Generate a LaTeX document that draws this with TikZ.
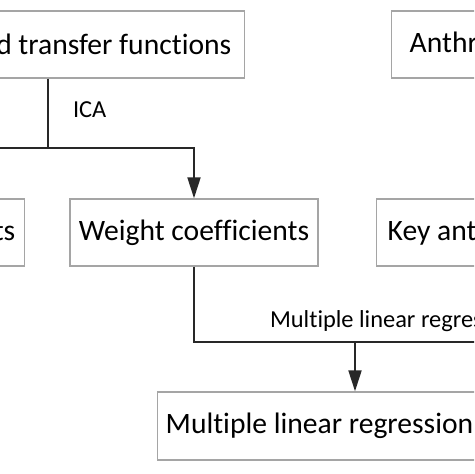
\documentclass[tikz,border=0pt]{standalone}
\usepackage{fontspec}
\setmainfont[Ligatures=NoCommon]{Carlito}
\usetikzlibrary{arrows.meta, positioning}
\definecolor{boxgray}{RGB}{165,165,165}
\definecolor{linedark}{RGB}{40,40,40}

\begin{document}
\begin{tikzpicture}[x=0.5pt, y=-0.5pt,
  box/.style={draw=boxgray, line width=0.7pt, minimum height=33.5pt, font=\fontsize{14.8}{17}\selectfont},
  flow/.style={draw=linedark, line width=1pt},
  arr/.style={flow, -{Triangle[length=10.5pt, width=6.5pt]}},
  lbl/.style={font=\fontsize{12.2}{14}\selectfont}]
  \useasboundingbox (0,0) rectangle (474,474);
  \clip (0,0) rectangle (474,474);
  % top row
  \node[box, anchor=east, inner xsep=6.5pt] (hrtf) at (245,44.5) {Head-related transfer functions};
  \node[box, anchor=west, inner xsep=9pt] (anth) at (391,44.5) {Anthropometric parameters};
  % middle row
  \node[box, anchor=east, inner xsep=4.5pt] (comp) at (25,232.5) {Independent components};
  \node[box, minimum width=124pt] (wcoef) at (194,232.5) {Weight coefficients};
  \node[box, anchor=west, inner xsep=5.5pt] (kanth) at (376,232.5) {Key anthropometric parameters};
  % bottom
  \node[box, anchor=west, inner xsep=4pt, minimum height=34pt] (mlr) at (157,426) {Multiple linear regression model};
  % connectors
  \coordinate (ica) at (48,148);
  \coordinate (reg) at (355,342);
  \draw[flow] (hrtf.south -| ica) -- (ica);
  \draw[arr] (ica) -| (comp.north);
  \draw[arr] (ica) -| (wcoef.north);
  \draw[flow] (wcoef.south) |- (reg);
  \draw[flow] (kanth.south) |- (reg);
  \draw[arr] (reg) -- (reg |- mlr.north);
  \node[lbl, anchor=west] (icalbl) at (66,110) {ICA};
  \node[lbl, anchor=west] (reglbl) at (263,321) {Multiple linear regression};
\end{tikzpicture}
\end{document}
